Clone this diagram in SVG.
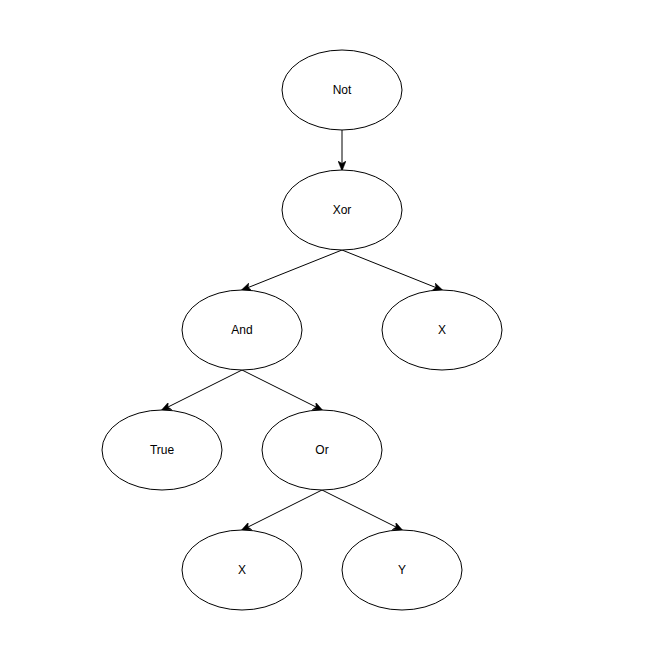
<svg xmlns="http://www.w3.org/2000/svg" width="656" height="656" viewBox="0 0 656 656">
<style>
.n ellipse{fill:#fff;stroke:#000;stroke-width:1}
.n text{font-family:"Liberation Sans",Arial,sans-serif;font-size:12px;fill:#000;text-anchor:middle;dominant-baseline:central}
.e path{stroke:#000;stroke-width:1;fill:none;marker-end:url(#a)}
</style>
<defs>
<marker id="a" viewBox="0 0 10 8" refX="9" refY="4" markerWidth="10" markerHeight="8" markerUnits="userSpaceOnUse" orient="auto">
<path d="M0,0 L10,4 L0,8 L2.5,4 Z" fill="#000" stroke="#000" stroke-width="0.5"/>
</marker>
</defs>
<rect width="656" height="656" fill="#fff"/>
<g id="edges" class="e">
<path d="M342,130 L342,170"/>
<path d="M342,250 L242,290"/>
<path d="M342,250 L442,290"/>
<path d="M242,370 L162,410"/>
<path d="M242,370 L322,410"/>
<path d="M322,490 L242,530"/>
<path d="M322,490 L402,530"/>
</g>
<g id="not" class="n"><ellipse cx="342" cy="90" rx="60" ry="40"/><text x="342" y="90">Not</text></g>
<g id="xor" class="n"><ellipse cx="342" cy="210" rx="60" ry="40"/><text x="342" y="210">Xor</text></g>
<g id="and" class="n"><ellipse cx="242" cy="330" rx="60" ry="40"/><text x="242" y="330">And</text></g>
<g id="x1" class="n"><ellipse cx="442" cy="330" rx="60" ry="40"/><text x="442" y="330">X</text></g>
<g id="true" class="n"><ellipse cx="162" cy="450" rx="60" ry="40"/><text x="162" y="450">True</text></g>
<g id="or" class="n"><ellipse cx="322" cy="450" rx="60" ry="40"/><text x="322" y="450">Or</text></g>
<g id="x2" class="n"><ellipse cx="242" cy="570" rx="60" ry="40"/><text x="242" y="570">X</text></g>
<g id="y" class="n"><ellipse cx="402" cy="570" rx="60" ry="40"/><text x="402" y="570">Y</text></g>
</svg>
